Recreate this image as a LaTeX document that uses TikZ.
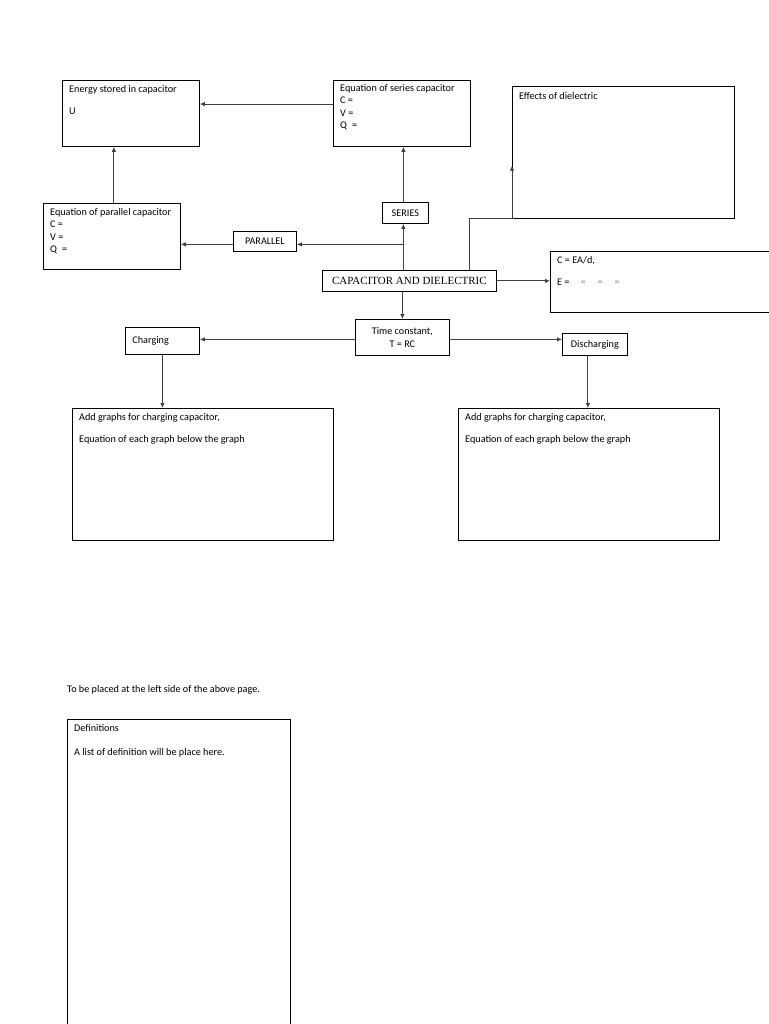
\documentclass[tikz,border=0pt]{standalone}
\usepackage{fontspec}
\setmainfont{Carlito}
\newfontfamily\capserif{Liberation Serif}
\usetikzlibrary{arrows.meta,calc}

\tikzstyle{frame}=[draw=black,line width=0.8pt,anchor=north west,inner sep=0pt]
\tikzstyle{words}=[anchor=north west,align=left,inner sep=0pt,font=\fontsize{10.2}{12.4}\selectfont]
\tikzstyle{tag}=[draw=black,line width=0.8pt,anchor=north west,inner xsep=7pt,inner ysep=0pt,font=\fontsize{10.2}{12.4}\selectfont]
\tikzstyle{link}=[draw=black!75,line width=0.9pt,-{Latex[length=5pt,width=4.5pt]}]

\begin{document}
\begin{tikzpicture}[x=1pt,y=-1pt]

   \useasboundingbox (0,0) rectangle (768,1024);

   % top row
   \node[frame,minimum width=137pt,minimum height=66pt] (energy) at (62,80) {};
   \node[words] (energytxt) at ([shift={(7pt,-5pt)}]energy.north west) {Energy stored in capacitor\\[10pt]U};
   \node[frame,minimum width=137pt,minimum height=66pt] (sereq) at (333,80) {};
   \node[words] (sereqtxt) at ([shift={(7pt,-4pt)}]sereq.north west) {Equation of series capacitor\\C =\\V =\\Q\enspace=};
   \node[frame,minimum width=222pt,minimum height=132pt] (effects) at (512,86) {};
   \node[words] (effectstxt) at ([shift={(7pt,-6pt)}]effects.north west) {Effects of dielectric};

   \node[frame,minimum width=137pt,minimum height=66pt] (pareq) at (43,203) {};
   \node[words] (pareqtxt) at ([shift={(7pt,-5pt)}]pareq.north west) {Equation of parallel capacitor\\C =\\V =\\Q\enspace=};
   \node[tag,minimum width=46pt,minimum height=21pt] (series) at (382,202) {SERIES};
   \node[tag,minimum width=63pt,minimum height=20pt] (parallel) at (233,231) {PARALLEL};

   % centre
   \node[tag,minimum width=174pt,minimum height=21pt,font=\capserif\fontsize{11}{13}\selectfont] (cap) at (322,270) {CAPACITOR AND DIELECTRIC};
   \node[frame,minimum width=230pt,minimum height=61pt] (eqbox) at (550,251) {};
   \node[words] (eqboxtxt) at ([shift={(7pt,-5pt)}]eqbox.north west) {C = EA/d,\\[10pt]E =\hspace{11pt}{\color{black!45}=\hspace{12pt}=\hspace{12pt}=}};
   \node[tag,minimum width=94pt,minimum height=36pt,align=center] (time) at (355,319) {Time constant,\\T = RC};
   \node[tag,minimum width=74pt,minimum height=27pt,text width=60pt,align=left] (charging) at (125,327) {Charging\\[-3pt]};
   \node[tag,minimum width=65pt,minimum height=22pt] (discharging) at (562,333) {Discharging};

   % graphs
   \node[frame,minimum width=261pt,minimum height=132pt] (chggraph) at (72,408) {};
   \node[words] (chggraphtxt) at ([shift={(7pt,-5pt)}]chggraph.north west) {Add graphs for charging capacitor,\\[10pt]Equation of each graph below the graph};
   \node[frame,minimum width=261pt,minimum height=132pt] (dischggraph) at (458,408) {};
   \node[words] (dischggraphtxt) at ([shift={(7pt,-5pt)}]dischggraph.north west) {Add graphs for charging capacitor,\\[10pt]Equation of each graph below the graph};

   % second part
   \node[words,anchor=west] (note) at (67,690) {To be placed at the left side of the above page.};
   \node[frame,minimum width=223pt,minimum height=330pt] (defs) at (67,719) {};
   \node[words] (defstxt) at ([shift={(7pt,-5pt)}]defs.north west) {Definitions\\[12pt]A list of definition will be place here.};

   \draw[link] ($(sereq.north west)!0.36!(sereq.south west)$) coordinate (s1) -- (energy.east |- s1);
   \draw[link] ([xshift=2pt]pareq.north) -- ([xshift=2pt]pareq.north |- energy.south);
   \draw[link] ([xshift=-2pt]series.south |- cap.north) -- ([xshift=-2pt]series.south);
   \draw[link] ([xshift=-2pt]series.north) -- ([xshift=-2pt]series.north |- sereq.south);
   \draw[link] ([xshift=-2pt,yshift=-3pt]series.south |- parallel.east) -- ([yshift=-3pt]parallel.east);
   \draw[link] ([yshift=-3pt]parallel.west) -- ([yshift=-3pt]parallel.west -| pareq.east);
   \draw[link] ([xshift=-27pt]cap.north east) |- (effects.south west) -- ($(effects.south west)!0.4!(effects.north west)$);
   \draw[link] (cap.east) -- (cap.east -| eqbox.west);
   \draw[link] (time.north |- cap.south) -- (time.north);
   \draw[link] ([yshift=-2pt]time.west) -- ([yshift=-2pt]time.west -| charging.east);
   \draw[link] ([yshift=-2pt]time.east) -- ([yshift=-2pt]time.east -| discharging.west);
   \draw[link] (charging.south) -- (charging.south |- chggraph.north);
   \draw[link] ([xshift=-7pt]discharging.south) -- ([xshift=-7pt]discharging.south |- dischggraph.north);
\end{tikzpicture}
\end{document}
